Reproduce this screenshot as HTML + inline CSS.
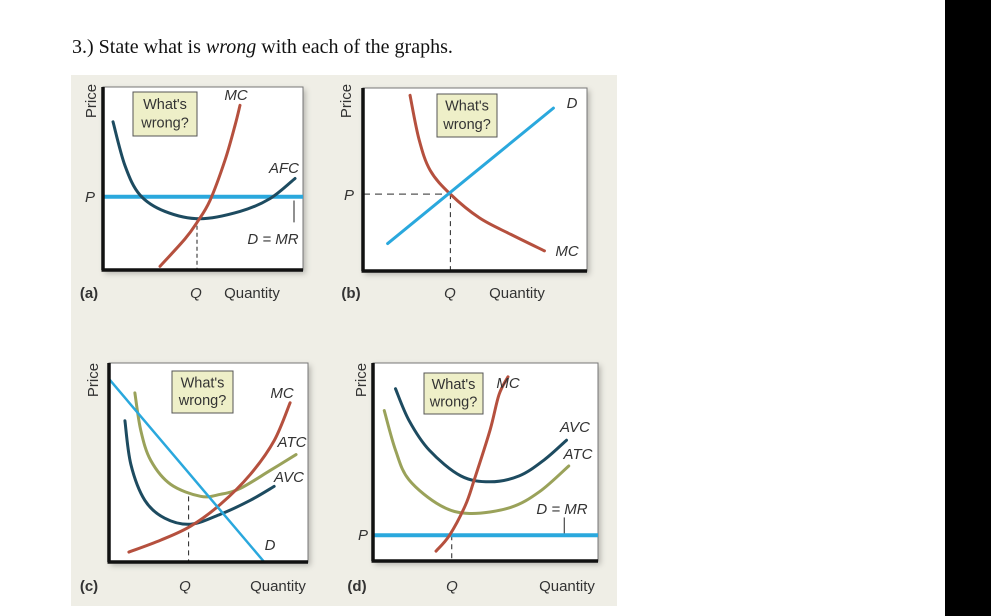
<!DOCTYPE html>
<html><head><meta charset="utf-8"><style>
body{margin:0;background:#fff;width:991px;height:616px;overflow:hidden;position:relative;font-family:"Liberation Sans",sans-serif}
#title{position:absolute;left:72px;top:36px;font-family:"Liberation Serif",serif;font-size:20px;color:#111}
#bar{position:absolute;left:945px;top:0;width:46px;height:616px;background:#000}
</style></head><body>
<div id="title">3.) State what is <i>wrong</i> with each of the graphs.</div>
<div id="bar"></div>
<svg id="fig" width="991" height="616" style="position:absolute;left:0;top:0">
<defs><filter id="sh" x="-10%" y="-10%" width="130%" height="130%"><feDropShadow dx="2" dy="3" stdDeviation="3" flood-color="#000" flood-opacity="0.25"/></filter></defs>
<rect x="71" y="75" width="546" height="531" fill="#efeee6"/>
</svg>
<script>
// ---- data (domain 0..100 per panel) ----
const aAFC=[[5,81],[11,57],[18.5,41],[31,32],[48.5,28],[68.5,32],[83.5,39],[96,50]];
const aMC=[[28.5,2],[41,17],[47,26],[53.5,38],[61,60],[66,79],[68.5,90]];
const aP=[40], aQ=[47];
const bD=[[11,15],[85,89]];
const bMC=[[21,96],[25,72],[30,55],[39,42],[52,29],[66,20],[81,11]];
const bP=[42], bQ=[39];
const cD=[[0,92],[78,0]];
const cATC=[[13,85],[16,66],[21,51],[31,39],[46,33],[56,34],[66,37],[81,46],[94,54]];
const cAVC=[[8,71],[11,49],[18,31],[28,22],[41,19],[56,24],[71,31],[83,38]];
const cMC=[[10,5],[26,11],[41,18],[56,29],[71,44],[83,61],[91,80]];
const cQ=[40], cQy=[33];
const dAVC=[[10,87],[16,71],[25,56],[39,43],[52,40],[65,43],[76,51],[86,61]];
const dATC=[[5,76],[10,56],[16,41],[30,28],[43,24],[61,27],[74,35],[87,48]];
const dMC=[[28,5],[34,13],[41,28],[45,41],[52,66],[56,84],[60,93]];
const dP=[13], dQ=[35];

const NS='http://www.w3.org/2000/svg', svg=document.getElementById('fig');
const RED='#b5503e',TEAL='#1d4b60',BLUE='#2aa8dd',GRN='#9aa25a';
function mk(t,a,p){const e=document.createElementNS(NS,t);for(const k in a)e.setAttribute(k,a[k]);(p||svg).appendChild(e);return e;}
function panel(L,T,R,B,name){
  const g=mk('g',{});
  
  
  const box=mk('rect',{x:L,y:T,width:R-L,height:B-T,fill:'#fff',stroke:'#777','stroke-width':1,filter:'url(#sh)'},g);
  
  
  return {g,sx:v=>L+v*(R-L)/100,sy:v=>B-v*(B-T)/100,L,T,R,B};
}
function curve(P,pts,col,w,name){
  const p=pts.map(q=>[P.sx(q[0]),P.sy(q[1])]);let d='M'+p[0][0]+','+p[0][1];
  for(let i=0;i<p.length-1;i++){const p0=p[i-1]||p[i],p1=p[i],p2=p[i+1],p3=p[i+2]||p2;
    d+=` C${p1[0]+(p2[0]-p0[0])/6},${p1[1]+(p2[1]-p0[1])/6} ${p2[0]-(p3[0]-p1[0])/6},${p2[1]-(p3[1]-p1[1])/6} ${p2[0]},${p2[1]}`;}
  const e=mk('path',{d,fill:'none',stroke:col,'stroke-width':w,'stroke-linecap':'round'},P.g);
  
  
}
function line(P,x1,y1,x2,y2,col,w,dash,name){
  const e=mk('line',{x1,y1,x2,y2,stroke:col,'stroke-width':w},P.g);if(dash)e.setAttribute('stroke-dasharray',dash);
  
  
}
function txt(P,x,y,s,name,opt){opt=opt||{};
  const e=mk('text',{x,y,'font-size':opt.fs||15,fill:'#333','font-style':opt.it?'italic':'normal','font-weight':opt.b?'bold':'normal','text-anchor':opt.a||'middle','dominant-baseline':'middle'},P.g);
  if(opt.rot)e.setAttribute('transform',`rotate(-90 ${x} ${y})`);
  e.textContent=s;
  
  
}
function note(P,x,y,w,h){
  const r=mk('rect',{x,y,width:w,height:h,fill:'#eeefc8',stroke:'#555','stroke-width':1},P.g);
  
  
  txt(P,x+w/2,y+h*0.3,"What's",'whats-wrong-line1',{fs:14.5});
  txt(P,x+w/2,y+h*0.72,"wrong?",'whats-wrong-line2',{fs:14.5});
}
function axes(P){line(P,P.L,P.T,P.L,P.B,'#111',3.5,null,'y-axis');line(P,P.L-1.5,P.B,P.R,P.B,'#111',3.5,null,'x-axis');}

// (a)
let A=panel(103,87,303,270,'panel-a');
line(A,A.sx(aQ[0]),A.sy(28),A.sx(aQ[0]),A.B,'#222',1,'4,3','q-dash');
line(A,A.sx(95.5),A.sy(38),A.sx(95.5),A.sy(26),'#222',1,null,'dmr-pointer');
line(A,A.L,A.sy(aP[0]),A.R,A.sy(aP[0]),BLUE,4,null,'demand-mr-line');
curve(A,aAFC,TEAL,3,'afc-curve');curve(A,aMC,RED,3,'mc-curve');axes(A);
note(A,133,92,64,44);
txt(A,236,96,'MC','mc-label',{it:1});txt(A,284,169,'AFC','afc-label',{it:1});txt(A,273,240,'D = MR','dmr-label',{it:1});
txt(A,90,198,'P','p-label',{it:1});txt(A,92,101,'Price','y-axis-title',{rot:1});
txt(A,89,294,'(a)','panel-label',{b:1,fs:15});txt(A,196,294,'Q','q-label',{it:1});txt(A,252,294,'Quantity','x-axis-title',{fs:15});

// (b)
let Bp=panel(363,88,587,271,'panel-b');
line(Bp,Bp.L,Bp.sy(bP[0]),Bp.sx(bQ[0]),Bp.sy(bP[0]),'#555',1.2,'7,5','p-dash');
line(Bp,Bp.sx(bQ[0]),Bp.sy(bP[0]),Bp.sx(bQ[0]),Bp.B,'#222',1,'5,4','q-dash');
curve(Bp,bMC,RED,3,'mc-curve');curve(Bp,bD,BLUE,3,'demand-line');axes(Bp);
note(Bp,437,94,60,43);
txt(Bp,572,104,'D','d-label',{it:1});txt(Bp,567,252,'MC','mc-label',{it:1});
txt(Bp,349,196,'P','p-label',{it:1});txt(Bp,347,101,'Price','y-axis-title',{rot:1});
txt(Bp,351,294,'(b)','panel-label',{b:1,fs:15});txt(Bp,450,294,'Q','q-label',{it:1});txt(Bp,517,294,'Quantity','x-axis-title',{fs:15});

// (c)
let C=panel(109,363,308,562,'panel-c');
line(C,C.sx(cQ[0]),C.sy(cQy[0]),C.sx(cQ[0]),C.B,'#222',1,'5,4','q-dash');
curve(C,cAVC,TEAL,3,'avc-curve');curve(C,cATC,GRN,3,'atc-curve');curve(C,cMC,RED,3,'mc-curve');curve(C,cD,BLUE,2.5,'demand-line');axes(C);
note(C,172,371,61,42);
txt(C,282,394,'MC','mc-label',{it:1});txt(C,292,443,'ATC','atc-label',{it:1});txt(C,289,478,'AVC','avc-label',{it:1});txt(C,270,546,'D','d-label',{it:1});
txt(C,94,380,'Price','y-axis-title',{rot:1});
txt(C,89,587,'(c)','panel-label',{b:1,fs:15});txt(C,185,587,'Q','q-label',{it:1});txt(C,278,587,'Quantity','x-axis-title',{fs:15});

// (d)
let D=panel(373,363,598,561,'panel-d');
line(D,D.sx(dQ[0]),D.sy(dP[0]),D.sx(dQ[0]),D.B,'#222',1,'5,4','q-dash');
line(D,D.sx(85),D.sy(dP[0]),D.sx(85),D.sy(dP[0]+9),'#222',1,null,'dmr-pointer');
line(D,D.L,D.sy(dP[0]),D.R,D.sy(dP[0]),BLUE,4,null,'demand-mr-line');
curve(D,dAVC,TEAL,3,'avc-curve');curve(D,dATC,GRN,3,'atc-curve');curve(D,dMC,RED,3,'mc-curve');axes(D);
note(D,424,373,59,41);
txt(D,508,384,'MC','mc-label',{it:1});txt(D,575,428,'AVC','avc-label',{it:1});txt(D,578,455,'ATC','atc-label',{it:1});txt(D,562,510,'D = MR','dmr-label',{it:1});
txt(D,363,536,'P','p-label',{it:1});txt(D,362,380,'Price','y-axis-title',{rot:1});
txt(D,357,587,'(d)','panel-label',{b:1,fs:15});txt(D,452,587,'Q','q-label',{it:1});txt(D,567,587,'Quantity','x-axis-title',{fs:15});
</script>
</body></html>
